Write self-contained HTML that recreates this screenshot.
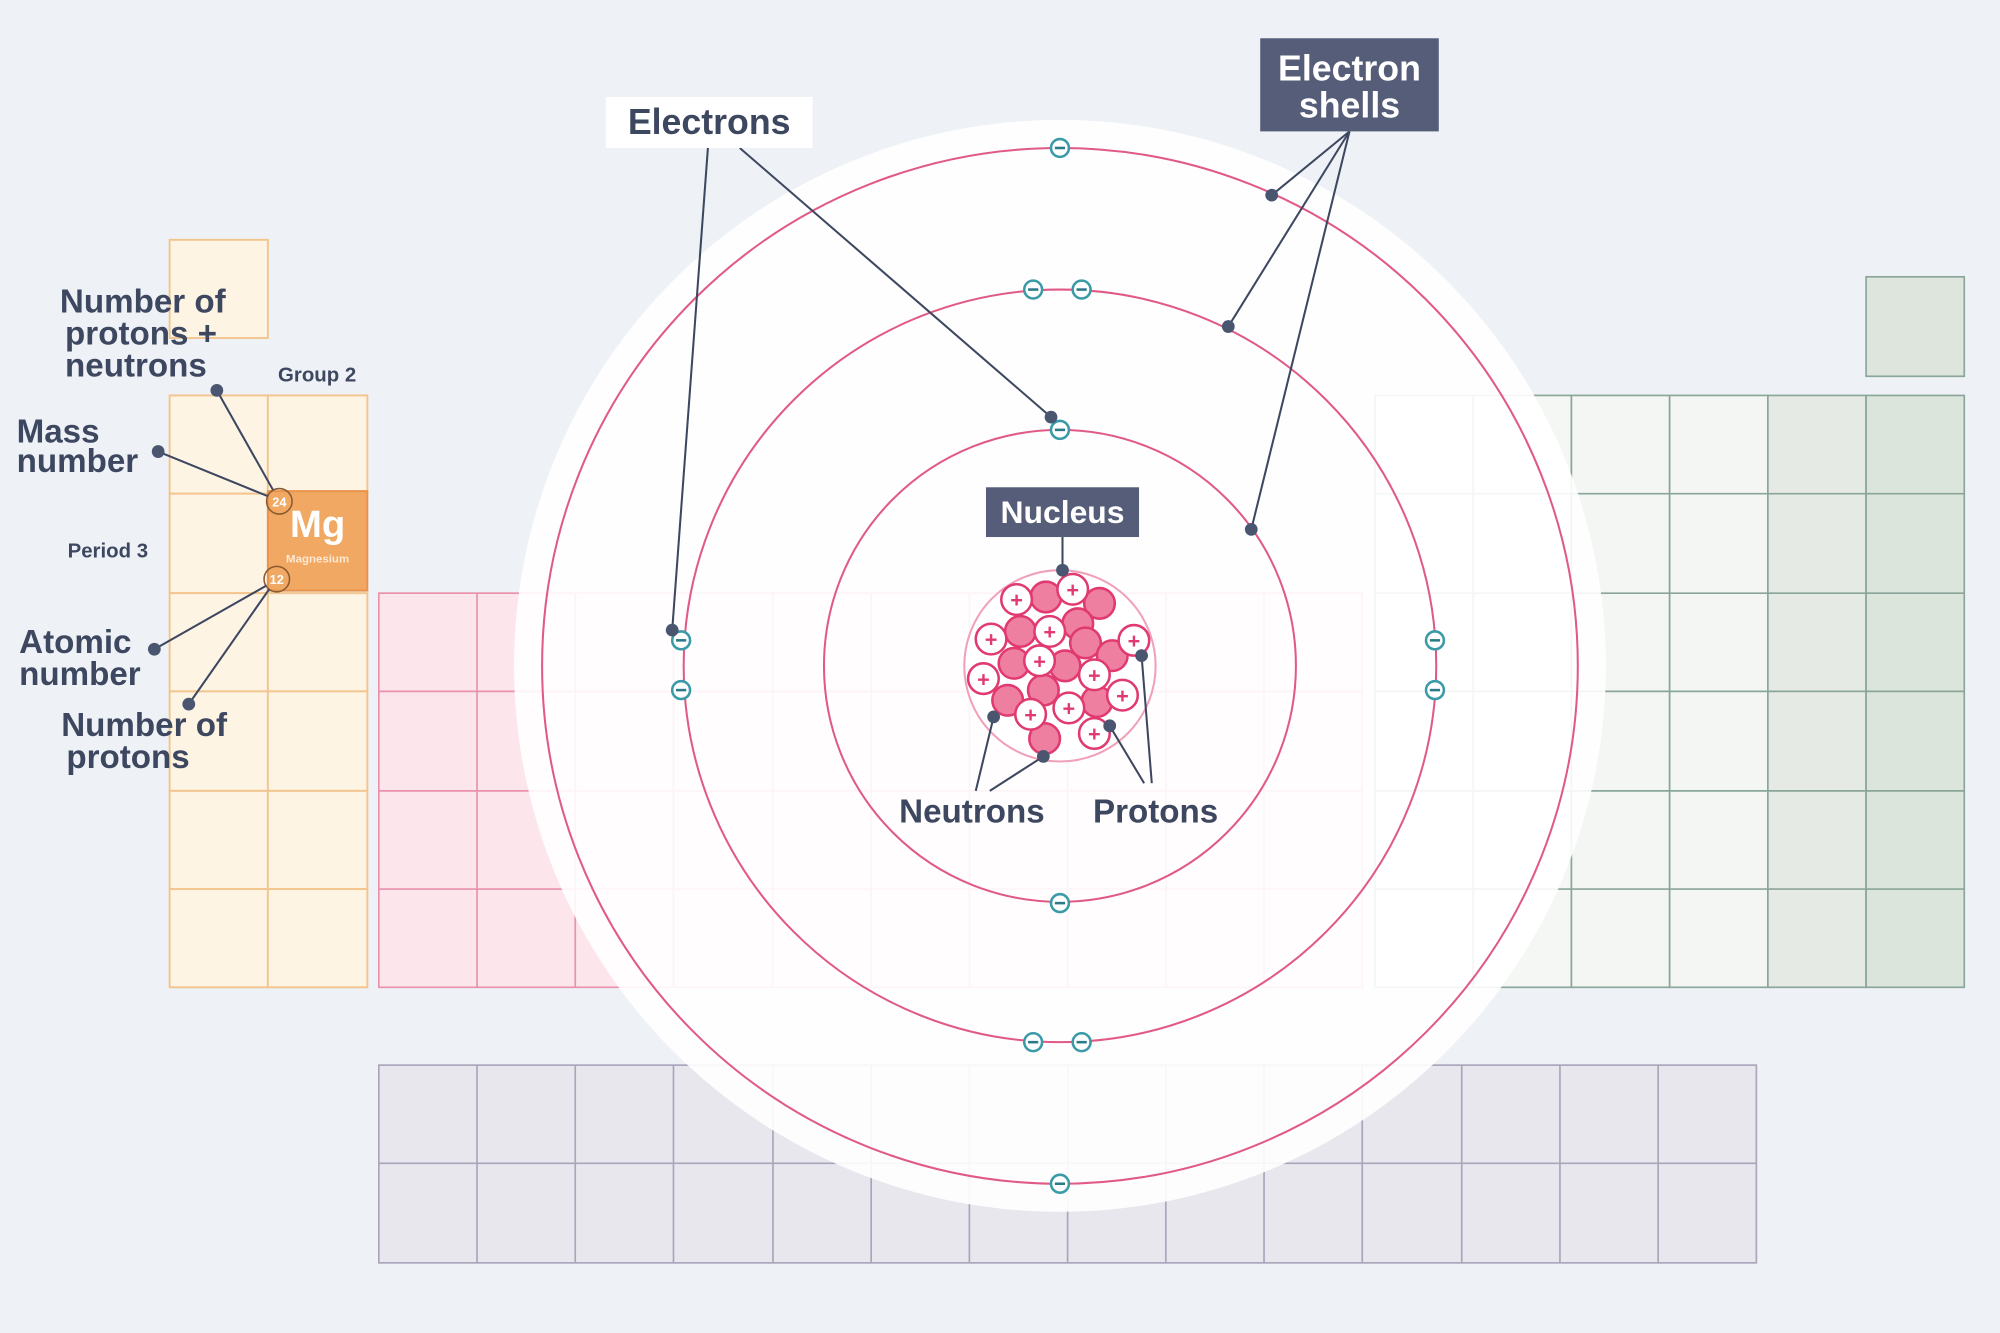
<!DOCTYPE html>
<html><head><meta charset="utf-8"><style>
html,body{margin:0;padding:0;background:#eef2f6;}
svg{display:block;}
text{font-family:"Liberation Sans",sans-serif;font-weight:bold;}
</style></head><body>
<svg width="2000" height="1333" viewBox="0 0 1568 1045" preserveAspectRatio="none" xmlns="http://www.w3.org/2000/svg">
<rect x="0" y="0" width="1568" height="1045" fill="#eef2f6"/>
<g fill="#fdf4e4" stroke="#f3c48e" stroke-width="1.5">
<rect x="133" y="188" width="77" height="77"/>
<rect x="133" y="310" width="77" height="77"/><rect x="210" y="310" width="78" height="77"/>
<rect x="133" y="387" width="77" height="78"/>
<rect x="133" y="465" width="77" height="77"/><rect x="210" y="465" width="78" height="77"/>
<rect x="133" y="542" width="77" height="78"/><rect x="210" y="542" width="78" height="78"/>
<rect x="133" y="620" width="77" height="77"/><rect x="210" y="620" width="78" height="77"/>
<rect x="133" y="697" width="77" height="77"/><rect x="210" y="697" width="78" height="77"/>
</g>
<rect x="210" y="385" width="78" height="78" fill="#f1a862" stroke="#e8924a" stroke-width="1.5"/>
<text x="249" y="421" font-size="30" fill="#fff" text-anchor="middle" font-weight="normal">Mg</text>
<text x="249" y="441" font-size="9" fill="#fde9d4" text-anchor="middle" font-weight="normal">Magnesium</text>
<circle cx="219" cy="393" r="10" fill="none" stroke="#8a5a30" stroke-width="1.2"/>
<text x="219" y="397" font-size="10" fill="#fff" text-anchor="middle" font-weight="normal">24</text>
<circle cx="217" cy="454" r="10" fill="none" stroke="#8a5a30" stroke-width="1.2"/>
<text x="217" y="458" font-size="10" fill="#fff" text-anchor="middle" font-weight="normal">12</text>
<g fill="#fce6ec" stroke="#e890ac" stroke-width="1.3">
<rect x="297" y="465" width="771" height="309"/>
</g>
<g stroke="#e890ac" stroke-width="1.3">
<line x1="374" y1="465" x2="374" y2="774"/><line x1="451" y1="465" x2="451" y2="774"/><line x1="528" y1="465" x2="528" y2="774"/><line x1="606" y1="465" x2="606" y2="774"/><line x1="683" y1="465" x2="683" y2="774"/><line x1="760" y1="465" x2="760" y2="774"/><line x1="837" y1="465" x2="837" y2="774"/><line x1="914" y1="465" x2="914" y2="774"/><line x1="991" y1="465" x2="991" y2="774"/>
<line x1="297" y1="542" x2="1068" y2="542"/><line x1="297" y1="620" x2="1068" y2="620"/><line x1="297" y1="697" x2="1068" y2="697"/>
</g>
<g stroke="#8aa59a" stroke-width="1.3">
<rect x="1078" y="310" width="77" height="464" fill="#f6f8f6"/>
<rect x="1155" y="310" width="77" height="464" fill="#f4f7f4"/>
<rect x="1232" y="310" width="77" height="464" fill="#f3f6f3"/>
<rect x="1309" y="310" width="77" height="464" fill="#f4f6f4"/>
<rect x="1386" y="310" width="77" height="464" fill="#e5ebe4"/>
<rect x="1463" y="310" width="77" height="464" fill="#dce5dc"/>
<line x1="1078" y1="387" x2="1540" y2="387"/><line x1="1078" y1="465" x2="1540" y2="465"/><line x1="1078" y1="542" x2="1540" y2="542"/><line x1="1078" y1="620" x2="1540" y2="620"/><line x1="1078" y1="697" x2="1540" y2="697"/>
<rect x="1463" y="217" width="77" height="78" fill="#dde5dc"/>
</g>
<g stroke="#a9a5bb" stroke-width="1.3" fill="none">
<rect x="297" y="835" width="1080" height="155" fill="#e8e7ee"/>
<line x1="297" y1="912" x2="1377" y2="912"/>
<line x1="374" y1="835" x2="374" y2="990"/><line x1="451" y1="835" x2="451" y2="990"/><line x1="528" y1="835" x2="528" y2="990"/><line x1="606" y1="835" x2="606" y2="990"/><line x1="683" y1="835" x2="683" y2="990"/><line x1="760" y1="835" x2="760" y2="990"/><line x1="837" y1="835" x2="837" y2="990"/><line x1="914" y1="835" x2="914" y2="990"/><line x1="991" y1="835" x2="991" y2="990"/><line x1="1068" y1="835" x2="1068" y2="990"/><line x1="1146" y1="835" x2="1146" y2="990"/><line x1="1223" y1="835" x2="1223" y2="990"/><line x1="1300" y1="835" x2="1300" y2="990"/>
</g>
<circle cx="831" cy="522" r="428" fill="#ffffff" opacity="0.9"/>
<g fill="none" stroke="#e05a85" stroke-width="1.6">
<circle cx="831" cy="522" r="406"/>
<circle cx="831" cy="522" r="295"/>
<circle cx="831" cy="522" r="185"/>
<circle cx="831" cy="522" r="75" stroke="#f0a0b8" fill="#fff"/>
</g>
<g stroke="#e03a70" stroke-width="2">
<g fill="#ef7fa0">
<circle cx="820" cy="468" r="12"/><circle cx="862" cy="473" r="12"/><circle cx="800" cy="495" r="12"/><circle cx="845" cy="489" r="12"/><circle cx="851" cy="504" r="12"/><circle cx="795" cy="520" r="12"/><circle cx="835" cy="522" r="12"/><circle cx="872" cy="514" r="12"/><circle cx="790" cy="549" r="12"/><circle cx="818" cy="541" r="12"/><circle cx="860" cy="550" r="12"/><circle cx="819" cy="579" r="12"/>
</g>
<g fill="#fff">
<circle cx="797" cy="470" r="12"/><circle cx="841" cy="462" r="12"/><circle cx="777" cy="501" r="12"/><circle cx="823" cy="495" r="12"/><circle cx="815" cy="518" r="12"/><circle cx="858" cy="529" r="12"/><circle cx="889" cy="502" r="12"/><circle cx="771" cy="532" r="12"/><circle cx="880" cy="545" r="12"/><circle cx="808" cy="560" r="12"/><circle cx="838" cy="555" r="12"/><circle cx="858" cy="575" r="12"/>
</g>
</g>
<g fill="#e03a70" font-size="17" text-anchor="middle">
<text x="797" y="476">+</text><text x="841" y="468">+</text><text x="777" y="507">+</text><text x="823" y="501">+</text><text x="815" y="524">+</text><text x="858" y="535">+</text><text x="889" y="508">+</text><text x="771" y="538">+</text><text x="880" y="551">+</text><text x="808" y="566">+</text><text x="838" y="561">+</text><text x="858" y="581">+</text>
</g>
<g>
<g fill="#fff" stroke="#3a9aa8" stroke-width="2">
<circle cx="831" cy="116" r="7"/><circle cx="831" cy="928" r="7"/>
<circle cx="810" cy="227" r="7"/><circle cx="848" cy="227" r="7"/><circle cx="810" cy="817" r="7"/><circle cx="848" cy="817" r="7"/>
<circle cx="534" cy="502" r="7"/><circle cx="534" cy="541" r="7"/><circle cx="1125" cy="502" r="7"/><circle cx="1125" cy="541" r="7"/>
<circle cx="831" cy="337" r="7"/><circle cx="831" cy="708" r="7"/>
</g>
<g stroke="#2a7a88" stroke-width="2">
<line x1="827" y1="116" x2="835" y2="116"/><line x1="827" y1="928" x2="835" y2="928"/>
<line x1="806" y1="227" x2="814" y2="227"/><line x1="844" y1="227" x2="852" y2="227"/><line x1="806" y1="817" x2="814" y2="817"/><line x1="844" y1="817" x2="852" y2="817"/>
<line x1="530" y1="502" x2="538" y2="502"/><line x1="530" y1="541" x2="538" y2="541"/><line x1="1121" y1="502" x2="1129" y2="502"/><line x1="1121" y1="541" x2="1129" y2="541"/>
<line x1="827" y1="337" x2="835" y2="337"/><line x1="827" y1="708" x2="835" y2="708"/>
</g>
</g>
<g stroke="#3d4760" stroke-width="1.6" fill="none">
<line x1="555" y1="116" x2="527" y2="494"/><line x1="580" y1="116" x2="824" y2="327"/>
<line x1="1058" y1="103" x2="997" y2="153"/><line x1="1058" y1="103" x2="963" y2="256"/><line x1="1058" y1="103" x2="981" y2="415"/>
<line x1="833" y1="421" x2="833" y2="447"/>
<line x1="765" y1="620" x2="779" y2="562"/><line x1="776" y1="620" x2="818" y2="593"/>
<line x1="897" y1="614" x2="870" y2="569"/><line x1="903" y1="614" x2="895" y2="514"/>
<line x1="170" y1="306" x2="214" y2="384"/><line x1="124" y1="354" x2="210" y2="389"/>
<line x1="121" y1="509" x2="209" y2="459"/><line x1="148" y1="552" x2="211" y2="462"/>
</g>
<g fill="#4a5570">
<circle cx="527" cy="494" r="5"/><circle cx="824" cy="327" r="5"/><circle cx="997" cy="153" r="5"/><circle cx="963" cy="256" r="5"/><circle cx="981" cy="415" r="5"/><circle cx="833" cy="447" r="5"/><circle cx="779" cy="562" r="5"/><circle cx="818" cy="593" r="5"/><circle cx="870" cy="569" r="5"/><circle cx="895" cy="514" r="5"/>
<circle cx="170" cy="306" r="5"/><circle cx="124" cy="354" r="5"/><circle cx="121" cy="509" r="5"/><circle cx="148" cy="552" r="5"/>
</g>
<rect x="475" y="76" width="162" height="40" fill="#fff"/>
<text x="556" y="105" font-size="28" fill="#3d4760" text-anchor="middle">Electrons</text>
<rect x="988" y="30" width="140" height="73" fill="#565d78"/>
<text x="1058" y="63" font-size="28" fill="#fff" text-anchor="middle">Electron</text>
<text x="1058" y="92" font-size="28" fill="#fff" text-anchor="middle">shells</text>
<rect x="773" y="382" width="120" height="39" fill="#565d78"/>
<text x="833" y="410" font-size="25" fill="#fff" text-anchor="middle">Nucleus</text>
<text x="762" y="645" font-size="26" fill="#3d4760" text-anchor="middle">Neutrons</text>
<text x="906" y="645" font-size="26" fill="#3d4760" text-anchor="middle">Protons</text>
<g fill="#3d4760" font-size="26">
<text x="47" y="245">Number of</text>
<text x="51" y="270">protons +</text>
<text x="51" y="295">neutrons</text>
<text x="13" y="347">Mass</text>
<text x="13" y="370">number</text>
<text x="15" y="512">Atomic</text>
<text x="15" y="537">number</text>
<text x="48" y="577">Number of</text>
<text x="52" y="602">protons</text>
</g>
<text x="53" y="437" font-size="16" fill="#3d4760" font-weight="normal">Period <tspan font-weight="bold">3</tspan></text>
<text x="218" y="299" font-size="16" fill="#3d4760" font-weight="normal">Group <tspan font-weight="bold">2</tspan></text>
</svg>
</body></html>
